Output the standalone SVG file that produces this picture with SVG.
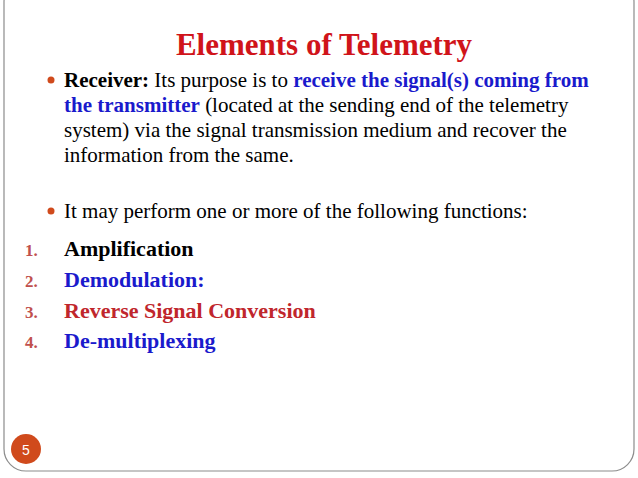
<svg xmlns="http://www.w3.org/2000/svg" width="638" height="478" viewBox="0 0 638 478">
<style>
text{font-family:"Liberation Serif","Times New Roman",serif;font-size:21px;fill:#000}
.b{font-weight:bold}.blue{fill:#1a1acc;font-weight:bold}.red{fill:#c0262c;font-weight:bold}
.li{font-size:22px}
.num{fill:#c0504d;font-size:17px;font-weight:bold}
</style>
<rect width="638" height="478" fill="#fff"/>
<rect x="4" y="-20" width="630" height="491" rx="22" fill="none" stroke="#8c8c8c" stroke-width="1.2"/>
<g id="title"><text x="324" y="55" text-anchor="middle" style="font-size:31px;font-weight:bold;fill:#d0141a">Elements of Telemetry</text></g>
<g id="bullet1">
<circle cx="51" cy="80" r="3.5" fill="#d04a1c"/>
<text x="64" y="87"><tspan class="b">Receiver:</tspan> Its purpose is to <tspan class="blue">receive the signal(s) coming from</tspan></text>
<text x="64" y="112"><tspan class="blue">the transmitter</tspan> (located at the sending end of the telemetry</text>
<text x="64" y="137">system) via the signal transmission medium and recover the</text>
<text x="64" y="162">information from the same.</text>
</g>
<g id="bullet2">
<circle cx="51" cy="211" r="3.5" fill="#d04a1c"/>
<text x="64" y="218">It may perform one or more of the following functions:</text>
</g>
<g id="list">
<text x="25" y="256" class="num">1.</text><text x="64" y="256" class="b li">Amplification</text>
<text x="25" y="287" class="num">2.</text><text x="64" y="287" class="blue li">Demodulation:</text>
<text x="25" y="318" class="num">3.</text><text x="64" y="318" class="red li">Reverse Signal Conversion</text>
<text x="25" y="348" class="num">4.</text><text x="64" y="348" class="blue li">De-multiplexing</text>
</g>
<g id="page">
<circle cx="26" cy="449" r="15" fill="#d04a1c"/>
<text x="26" y="455" text-anchor="middle" style="font-family:'Liberation Sans',Arial,sans-serif;font-size:14px;fill:#fff">5</text>
</g>
</svg>
